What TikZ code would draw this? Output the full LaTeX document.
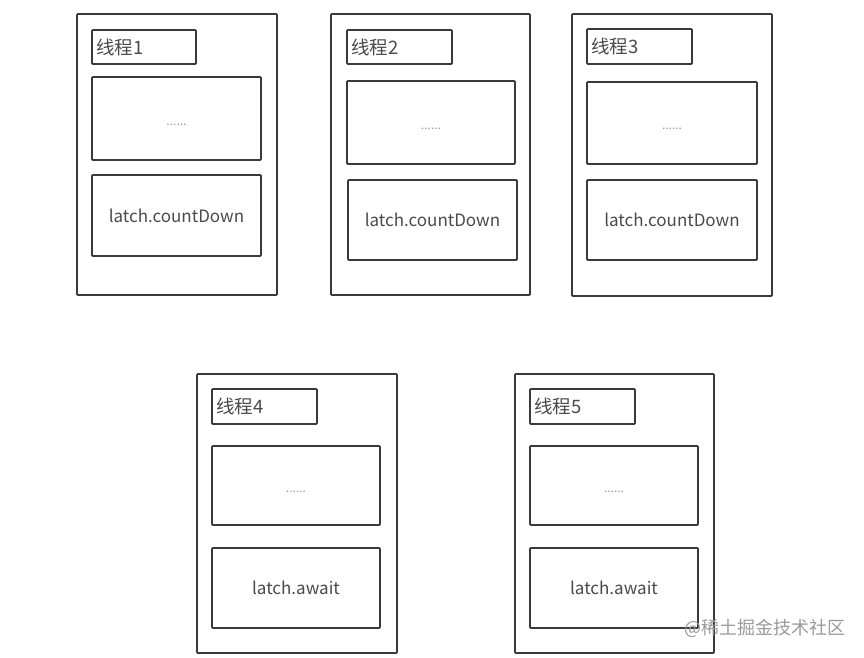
\documentclass[tikz,border=0pt]{standalone}
\usepackage{fontspec}
\setmainfont{Noto Sans CJK SC}
\newfontfamily\cjk{Noto Sans CJK SC}
\definecolor{edge}{HTML}{3A3A3A}
\definecolor{txt}{HTML}{4A4A4A}
\definecolor{wm}{HTML}{9A9A9A}
\tikzset{
  box/.style={draw=edge, line width=1.8pt, inner sep=0pt, outer sep=0pt, rounded corners=0.8pt},
  titlebox/.style={box, text=txt, align=left, inner xsep=4pt, font=\cjk\fontsize{18.5}{20}\selectfont},
  dotsbox/.style={box, text=wm, text height=14pt, text depth=0pt, font=\fontsize{12}{12}\selectfont},
  callbox/.style={box, text=txt, font=\fontsize{17}{18}\selectfont},
}
\begin{document}
\begin{tikzpicture}[x=1pt,y=-1pt]
\useasboundingbox (0,0) rectangle (864,658);
% thread 1
\node[box, minimum width=200pt, minimum height=281pt] (o1) at (177,154.5) {};
\node[titlebox, minimum width=104pt, minimum height=34pt, text width=96pt] (h1) at (144,47) {线程1};
\node[dotsbox, minimum width=169pt, minimum height=83pt] (m1) at (176.5,118.5) {......};
\node[callbox, minimum width=169pt, minimum height=81pt] (b1) at (176.5,215.5) {latch.countDown};
% thread 2
\node[box, minimum width=199pt, minimum height=281pt] (o2) at (430.5,154.5) {};
\node[titlebox, minimum width=105pt, minimum height=34pt, text width=97pt] (h2) at (399.5,47) {线程2};
\node[dotsbox, minimum width=168pt, minimum height=83pt] (m2) at (431,122.5) {......};
\node[callbox, minimum width=169pt, minimum height=80pt] (b2) at (432.5,220) {latch.countDown};
% thread 3
\node[box, minimum width=200pt, minimum height=282pt] (o3) at (672,155) {};
\node[titlebox, minimum width=105pt, minimum height=35pt, text width=97pt] (h3) at (639.5,46.5) {线程3};
\node[dotsbox, minimum width=170pt, minimum height=82pt] (m3) at (672,123) {......};
\node[callbox, minimum width=170pt, minimum height=80pt] (b3) at (672,220) {latch.countDown};
% thread 4
\node[box, minimum width=200pt, minimum height=279pt] (o4) at (297,513.5) {};
\node[titlebox, minimum width=105pt, minimum height=35pt, text width=97pt] (h4) at (264.5,406.5) {线程4};
\node[dotsbox, minimum width=168pt, minimum height=79pt] (m4) at (296,485.5) {......};
\node[callbox, minimum width=168pt, minimum height=80pt] (b4) at (296,588) {latch.await};
% thread 5
\node[box, minimum width=199pt, minimum height=279pt] (o5) at (614.5,513.5) {};
\node[titlebox, minimum width=105pt, minimum height=35pt, text width=97pt] (h5) at (582.5,406.5) {线程5};
\node[dotsbox, minimum width=168pt, minimum height=79pt] (m5) at (614,485.5) {......};
\node[callbox, minimum width=168pt, minimum height=80pt] (b5) at (614,588) {latch.await};
% watermark
\node[text=wm, font=\cjk\fontsize{18}{20}\selectfont, inner sep=0pt] (wm) at (765,628) {@稀土掘金技术社区};
\end{tikzpicture}
\end{document}
